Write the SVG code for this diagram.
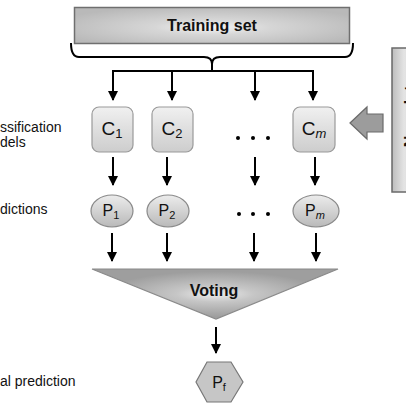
<svg xmlns="http://www.w3.org/2000/svg" width="406" height="406" viewBox="0 0 406 406">
<defs>
<radialGradient id="gTrain" cx="0.5" cy="0.55" r="0.6">
<stop offset="0" stop-color="#f4f4f4"/><stop offset="0.35" stop-color="#d6d6d6"/><stop offset="1" stop-color="#b9b9b9"/>
</radialGradient>
<linearGradient id="gBox" x1="0" y1="0" x2="0" y2="1">
<stop offset="0" stop-color="#f0f0f0"/><stop offset="1" stop-color="#cdcdcd"/>
</linearGradient>
<linearGradient id="gEll" x1="0" y1="0" x2="0" y2="1">
<stop offset="0" stop-color="#ececec"/><stop offset="1" stop-color="#b9b9b9"/>
</linearGradient>
<radialGradient id="gVote" cx="0.5" cy="0.5" r="0.45">
<stop offset="0" stop-color="#ededed"/><stop offset="0.35" stop-color="#c6c6c6"/><stop offset="1" stop-color="#9e9e9e"/>
</radialGradient>
<linearGradient id="gSide" x1="0" y1="0" x2="1" y2="0">
<stop offset="0" stop-color="#bdbdbd"/><stop offset="0.4" stop-color="#e4e4e4"/><stop offset="1" stop-color="#d6d6d6"/>
</linearGradient>
<marker id="ah" viewBox="0 0 10 10" refX="9" refY="5" markerWidth="5" markerHeight="5" orient="auto">
<path d="M0,0 L10,5 L0,10 z" fill="#000"/>
</marker>
<style>
.lbl{font-family:"Liberation Sans",Arial,sans-serif;font-size:14px;fill:#111}
.big{font-family:"Liberation Sans",Arial,sans-serif;font-weight:bold;font-size:16px;fill:#111}
.nd{font-family:"Liberation Sans",Arial,sans-serif;fill:#111}
.con{stroke:#000;stroke-width:2;fill:none}
.arr{stroke:#000;stroke-width:2;fill:none;marker-end:url(#ah)}
.cbox{fill:url(#gBox);stroke:#9a9a9a;stroke-width:1.2}
.pell{fill:url(#gEll);stroke:#8a8a8a;stroke-width:1.2}
</style>
</defs>

<g id="labels">
<text class="lbl" x="0" y="132">ssification</text>
<text class="lbl" x="0" y="147">dels</text>
<text class="lbl" x="0" y="214">dictions</text>
<text class="lbl" x="0" y="386">al prediction</text>
</g>

<g id="training-set">
<rect x="74.5" y="7.5" width="275" height="36" fill="url(#gTrain)" stroke="#6f6f6f" stroke-width="1.5"/>
<text class="big" x="212" y="31" text-anchor="middle">Training set</text>
</g>

<g id="new-data">
<rect x="392" y="48" width="30" height="144" fill="url(#gSide)" stroke="#6a6a6a" stroke-width="1.5"/>
<text class="big" transform="translate(415.5,112) rotate(-90)" text-anchor="middle">New data</text>
</g>

<g id="input-arrow">
<polygon points="350,123 367,107 367,114 383,114 383,132 367,132 367,139" fill="#9c9c9c" stroke="#6a6a6a" stroke-width="1.2"/>
</g>

<g id="connectors">
<path class="con" d="M71,43 Q71,57 79,57 L204,57 Q212,57 212,64 Q212,57 220,57 L345,57 Q353,57 353,43"/>
<path class="con" d="M212,63 L212,71 M112,71 L314,71"/>
<path class="arr" d="M113,70 L113,100"/>
<path class="arr" d="M172,71 L172,100"/>
<path class="arr" d="M255,71 L255,100"/>
<path class="arr" d="M313,70 L313,100"/>
<path class="arr" d="M113,157 L113,185"/>
<path class="arr" d="M167,157 L167,185"/>
<path class="arr" d="M255,157 L255,185"/>
<path class="arr" d="M315,157 L315,185"/>
<path class="arr" d="M112,233 L112,261"/>
<path class="arr" d="M167,233 L167,261"/>
<path class="arr" d="M254,233 L254,261"/>
<path class="arr" d="M316,233 L316,261"/>
<path class="arr" d="M216,327 L216,353"/>
</g>

<g id="C1">
<rect class="cbox" x="92" y="107" width="41" height="45" rx="7"/>
<text class="nd" x="112" y="135" text-anchor="middle" font-size="19">C<tspan font-size="13" dy="3">1</tspan></text>
</g>
<g id="C2">
<rect class="cbox" x="152" y="107" width="41" height="45" rx="7"/>
<text class="nd" x="172" y="135" text-anchor="middle" font-size="19">C<tspan font-size="13" dy="3">2</tspan></text>
</g>
<g id="Cdots">
<circle cx="238" cy="138" r="2"/><circle cx="253" cy="138" r="2"/><circle cx="268" cy="138" r="2"/>
</g>
<g id="Cm">
<rect class="cbox" x="293" y="107" width="42" height="45" rx="7"/>
<text class="nd" x="314" y="135" text-anchor="middle" font-size="19">C<tspan font-size="13" dy="3" font-style="italic">m</tspan></text>
</g>

<g id="P1">
<ellipse class="pell" cx="112" cy="211" rx="21" ry="16"/>
<text class="nd" x="111" y="216" text-anchor="middle" font-size="16">P<tspan font-size="11" dy="3">1</tspan></text>
</g>
<g id="P2">
<ellipse class="pell" cx="168" cy="211" rx="21" ry="16"/>
<text class="nd" x="167" y="216" text-anchor="middle" font-size="16">P<tspan font-size="11" dy="3">2</tspan></text>
</g>
<g id="Pdots">
<circle cx="239" cy="214" r="2"/><circle cx="253" cy="214" r="2"/><circle cx="268" cy="214" r="2"/>
</g>
<g id="Pm">
<ellipse class="pell" cx="316" cy="211" rx="23" ry="16"/>
<text class="nd" x="315" y="216" text-anchor="middle" font-size="16">P<tspan font-size="11" dy="3" font-style="italic">m</tspan></text>
</g>

<g id="voting">
<polygon points="92,269 338,269 216,319" fill="url(#gVote)" stroke="#8a8a8a" stroke-width="1.2"/>
<text class="big" x="214" y="296" text-anchor="middle">Voting</text>
</g>

<g id="Pf">
<polygon points="207,362 231,362 243,382 231,402 207,402 196,382" fill="#c6c6c6" stroke="#777" stroke-width="1.2"/>
<text class="nd" x="219" y="388" text-anchor="middle" font-size="16">P<tspan font-size="11" dy="3">f</tspan></text>
</g>
</svg>
